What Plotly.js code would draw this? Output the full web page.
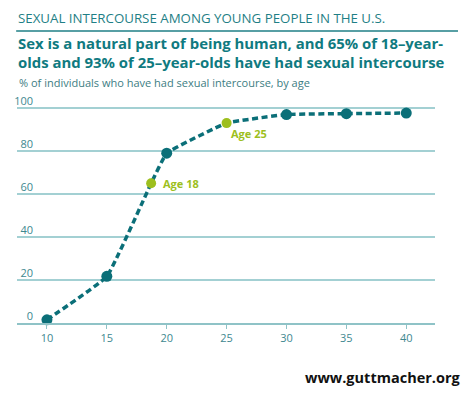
<!DOCTYPE html>
<html>
<head>
<meta charset="utf-8">
<script src="https://cdn.plot.ly/plotly-3.0.1.min.js"></script>
<style>html,body{margin:0;padding:0;background:#fff}#chart{width:474px;height:394px}</style>
</head>
<body>
<div id="chart"></div>
<script>
// Data
const ages = [10, 15, 18.7, 20, 25, 30, 35, 40];
const pctHad = [1.5, 21.7, 65, 79, 93, 97, 97.4, 97.7];
const mainAges = [10, 15, 20, 30, 35, 40];
const mainPct = [1.5, 21.7, 79, 97, 97.4, 97.7];
const highlightAges = [18.7, 25];
const highlightPct = [65, 93];
const highlightLabels = ['Age 18', 'Age 25'];
const xTicks = [10, 15, 20, 25, 30, 35, 40];
const yTicks = [0, 20, 40, 60, 80, 100];

const teal = '#0b6f78';
const green = '#9dbf1e';
const font = 'Open Sans, Noto Sans, sans-serif';

const traces = [
  {x: ages, y: pctHad, mode: 'lines', line: {color: teal, width: 3.5, dash: '6px,3.5px', shape: 'spline', smoothing: 0.3}, hoverinfo: 'skip', cliponaxis: false},
  {x: mainAges, y: mainPct, mode: 'markers', marker: {color: teal, size: 11}, cliponaxis: false},
  {x: highlightAges, y: highlightPct, mode: 'markers', marker: {color: green, size: 10}, cliponaxis: false}
];

// paper height = 394 - 107 - 71 = 216 ; paper y = (323 - py) / 216
const annotations = [
  {xref: 'paper', yref: 'paper', x: 0, y: (323 - 18) / 216, xanchor: 'left', yanchor: 'middle', showarrow: false,
   text: 'SEXUAL INTERCOURSE AMONG YOUNG PEOPLE IN THE U.S.', font: {family: font, size: 13.3, color: '#1f7f86'}, xshift: -1},
  {xref: 'paper', yref: 'paper', x: 0, y: (323 - 52.5) / 216, xanchor: 'left', yanchor: 'middle', showarrow: false, align: 'left',
   text: '<b>Sex is a natural part of being human, and 65% of 18–year-<br>olds and 93% of 25–year-olds have had sexual intercourse</b>',
   font: {family: font, size: 14.9, color: '#0f7a80'}, xshift: -1},
  {xref: 'paper', yref: 'paper', x: 0, y: (323 - 83) / 216, xanchor: 'left', yanchor: 'middle', showarrow: false,
   text: '% of individuals who have had sexual intercourse, by age', font: {family: font, size: 11, color: '#3d7d83'}},
  {xref: 'paper', yref: 'paper', x: (463 - 17) / 418, y: (323 - 377) / 216, xanchor: 'right', yanchor: 'middle', showarrow: false,
   text: '<b>www.guttmacher.org</b>', font: {family: font, size: 14.5, color: '#111'}}
];
highlightLabels.forEach((t, i) => {
  annotations.push({x: highlightAges[i], y: highlightPct[i], xref: 'x', yref: 'y', showarrow: false,
    text: '<b>' + t + '</b>', xanchor: 'left', yanchor: 'middle', xshift: i === 0 ? 10 : 2, yshift: i === 0 ? 0 : -10,
    font: {family: font, size: 11, color: green}});
});

const layout = {
  width: 474, height: 394,
  margin: {l: 17, r: 39, t: 107, b: 71},
  paper_bgcolor: '#fff', plot_bgcolor: '#fff',
  showlegend: false,
  xaxis: {range: [7.5, 42.4], tickvals: xTicks, ticks: 'outside', ticklen: 4, tickcolor: '#8fc3c7',
    showgrid: false, zeroline: false, showline: true, linecolor: '#8fc3c7', linewidth: 1.5,
    tickfont: {family: font, size: 11, color: '#3e8890'}, fixedrange: true},
  yaxis: {range: [0, 100.5], tickvals: yTicks, showgrid: true, gridcolor: '#a3d0d3', gridwidth: 1.5,
    zeroline: false, showline: false, ticks: '', ticklabelstandoff: -17, ticklabelshift: -7,
    tickfont: {family: font, size: 11, color: '#3e8890'}, fixedrange: true},
  shapes: [{type: 'line', xref: 'paper', yref: 'paper', x0: -0.002, x1: 1.055, y0: (323 - 31) / 216, y1: (323 - 31) / 216,
    line: {color: '#1f7f86', width: 1.5}}],
  annotations: annotations
};

Plotly.newPlot('chart', traces, layout, {staticPlot: true, displayModeBar: false});
</script>
</body>
</html>
